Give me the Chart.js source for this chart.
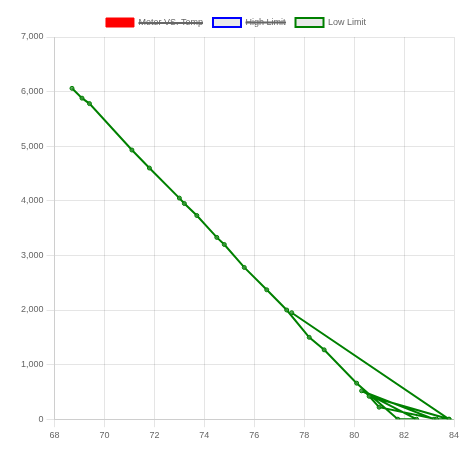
<!DOCTYPE html>
<html>
<head>
<script src="https://cdn.jsdelivr.net/npm/chart.js@4"></script>
<style>body{margin:0;background:#fff}#wrap{width:474px;height:464px}</style>
</head>
<body>
<div id="wrap"><canvas id="chart"></canvas></div>
<script>
const temps = [68.7, 69.1, 69.4, 71.1, 71.8, 73.0, 73.2, 73.7, 74.5, 74.8, 75.6, 76.5, 77.3, 78.2, 78.8, 80.1, 81.75, 82.5, 80.3, 83.2, 83.8, 80.6, 81.0, 83.3, 83.8, 77.5];
const meters = [6060, 5880, 5780, 4930, 4600, 4050, 3950, 3730, 3330, 3200, 2780, 2370, 2000, 1500, 1270, 660, 0, 0, 520, 0, 0, 420, 220, 0, 0, 1950];
const labels = ['Meter VS. Temp', 'High Limit', 'Low Limit'];

const lowPoints = temps.map((t, i) => ({ x: t, y: meters[i] }));

new Chart(document.getElementById('chart'), {
    type: 'scatter',
    data: {
        datasets: [{
            label: labels[0],
            data: [],
            backgroundColor: 'red',
            borderColor: 'red',
            hidden: true
        }, {
            label: labels[1],
            data: [],
            backgroundColor: 'rgba(220,220,220,0.6)',
            borderColor: 'blue',
            borderWidth: 2,
            hidden: true
        }, {
            label: labels[2],
            data: lowPoints,
            showLine: true,
            backgroundColor: 'rgba(220,220,220,0.6)',
            borderColor: 'green',
            pointBackgroundColor: 'rgba(60,150,60,0.8)',
            pointBorderColor: 'green',
            pointRadius: 2,
            pointBorderWidth: 1,
            borderWidth: 2
        }]
    },
    options: {
        animation: false,
        maintainAspectRatio: false,
        layout: { padding: { left: 18, right: 20, top: 8, bottom: 20 } },
        plugins: {
            legend: {
                labels: { boxWidth: 28, font: { size: 9 } }
            }
        },
        scales: {
            x: {
                min: 68, max: 84,
                ticks: { stepSize: 2, font: { size: 9 } }
            },
            y: {
                min: 0, max: 7000,
                ticks: { stepSize: 1000, font: { size: 9 } }
            }
        }
    }
});
</script>
</body>
</html>
